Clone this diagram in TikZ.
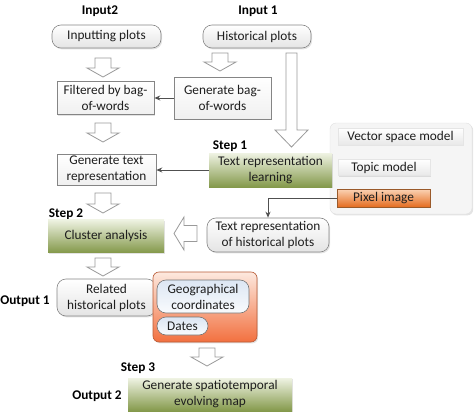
\documentclass[tikz,border=0pt]{standalone}
\usepackage{fontspec}
\setmainfont{Carlito}
\usetikzlibrary{shadows,arrows.meta}
\definecolor{txt}{HTML}{1E1E1E}
\definecolor{bordgray}{HTML}{858585}
\definecolor{pillbot}{HTML}{E4E4E4}
\definecolor{boxbot}{HTML}{F0F0F0}
\definecolor{greentop}{HTML}{EFF3E3}
\definecolor{greenmid}{HTML}{C9D4AA}
\definecolor{greenbot}{HTML}{84994B}
\definecolor{orgtop}{HTML}{FBD3B5}
\definecolor{orgbot}{HTML}{E46C1F}
\definecolor{orgbord}{HTML}{9A5A2A}
\definecolor{paneltop}{HTML}{FDE9DF}
\definecolor{panelbot}{HTML}{F2703F}
\definecolor{panelbord}{HTML}{B85A35}
\definecolor{bluetop}{HTML}{DCE6F3}
\definecolor{bluebot}{HTML}{F9FBFD}
\definecolor{arrgray}{HTML}{9A9A9A}
\definecolor{conncol}{HTML}{505050}
\begin{document}
\begin{tikzpicture}[x=1pt,y=-1pt,
  every node/.style={font=\fontsize{13.3}{16}\selectfont, text=txt, inner sep=0pt, align=center},
  lbl/.style={font=\fontsize{13.3}{16}\selectfont\bfseries, text=black},
  shad/.style={drop shadow={opacity=0.22, shadow xshift=1.2pt, shadow yshift=-1.4pt}},
  pill/.style={shad, draw=bordgray, line width=0.6pt, rounded corners=9pt, top color=white, bottom color=pillbot},
  sqbox/.style={shad, draw=bordgray, line width=0.6pt, top color=white, bottom color=boxbot},
  greenbox/.style={shad, draw=none, top color=greentop, middle color=greenmid, bottom color=greenbot},
  btn/.style={shad, draw=black!10, line width=0.4pt, top color=white, bottom color=black!9},
  orgbox/.style={shad, draw=orgbord, line width=0.6pt, top color=orgtop, bottom color=orgbot},
  bluepill/.style={draw=black!55, line width=0.6pt, rounded corners=9pt, top color=bluetop, bottom color=bluebot},
  hol/.style={draw=arrgray, fill=white, line width=0.8pt, line join=miter},
  conn/.style={draw=conncol, line width=1pt, -{Stealth[length=6pt,width=5pt]}},
  pics/hdown/.style={code={\draw[hol] (-8,0) -- (8,0) -- (8,{#1-9}) -- (16,{#1-9}) -- (0,#1) -- (-16,{#1-9}) -- (-8,{#1-9}) -- cycle;}}
]
\useasboundingbox (0,0) rectangle (474,412);

% labels
\node[lbl] (in2) at (100,11) {Input2};
\node[lbl] (in1) at (258,11) {Input 1};
\node[lbl] (s1) at (230,146) {Step 1};
\node[lbl] (s2) at (66,214) {Step 2};
\node[lbl] (o1) at (25,301) {Output 1};
\node[lbl] (s3) at (138,368) {Step 3};
\node[lbl] (o2) at (97,396) {Output 2};

% right panel
\node[shad, draw=black!12, fill=black!4, rounded corners=6pt, minimum width=142, minimum height=91] (panel) at (401,168.5) {};
\node[btn, minimum width=125, minimum height=17] (vsm) at (400.5,136.5) {Vector space model};
\node[btn, minimum width=92, minimum height=16] (topic) at (384,167.5) {Topic model};
\node[orgbox, minimum width=93, minimum height=18] (pixel) at (383.5,198) {Pixel image};

% main nodes
\node[pill, minimum width=109, minimum height=23] (inp) at (106.5,36.5) {Inputting plots};
\node[pill, minimum width=108, minimum height=23] (hist) at (257,36.5) {Historical plots};
\node[sqbox, minimum width=97, minimum height=33] (filt) at (105.5,98) {Filtered by bag-\\of-words};
\node[sqbox, minimum width=97, minimum height=42] (genbag) at (222.5,98) {Generate bag-\\of-words};
\node[sqbox, minimum width=99, minimum height=31] (gtext) at (106.5,169.5) {Generate text\\representation};
\node[greenbox, minimum width=123, minimum height=34] (trl) at (270.5,170) {Text representation\\learning};
\node[greenbox, minimum width=116, minimum height=33] (clus) at (106,236) {Cluster analysis};
\node[pill, minimum width=122, minimum height=34] (trh) at (268,235) {Text representation\\of historical plots};
\node[pill, minimum width=99, minimum height=37] (rel) at (106.5,297.5) {Related\\historical plots};
\node[shad, draw=panelbord, line width=0.6pt, rounded corners=6pt, top color=paneltop, bottom color=panelbot, minimum width=104, minimum height=70] (opanel) at (205,307) {};
\node[bluepill, minimum width=92, minimum height=33] (geo) at (203,296.5) {Geographical\\coordinates};
\node[bluepill, minimum width=51, minimum height=18] (dates) at (182.5,326) {Dates};
\node[greenbox, minimum width=164, minimum height=33] (gsm) at (210,394.5) {Generate spatiotemporal\\evolving map};

% hollow arrows
\pic at (103,58) {hdown=19};
\pic at (220,53) {hdown=18};
\pic at (103,123) {hdown=19};
\pic at (103,193) {hdown=20};
\pic at (103,258) {hdown=18};
\pic at (207,348) {hdown=18};
\draw[hol] (286,53) -- (297,53) -- (297,130) -- (308,130) -- (291.5,147) -- (275,130) -- (286,130) -- cycle;
\draw[hol] (197,225.5) -- (184,225.5) -- (184,217) -- (174,233.5) -- (184,250) -- (184,241.5) -- (197,241.5) -- cycle;

% thin connectors
\draw[conn] (genbag.west) -- (filt.east);
\draw[conn] (trl.west) -- (trl.west -| gtext.east);
\draw[conn] (pixel.west) -| (trh.north);
\end{tikzpicture}
\end{document}
